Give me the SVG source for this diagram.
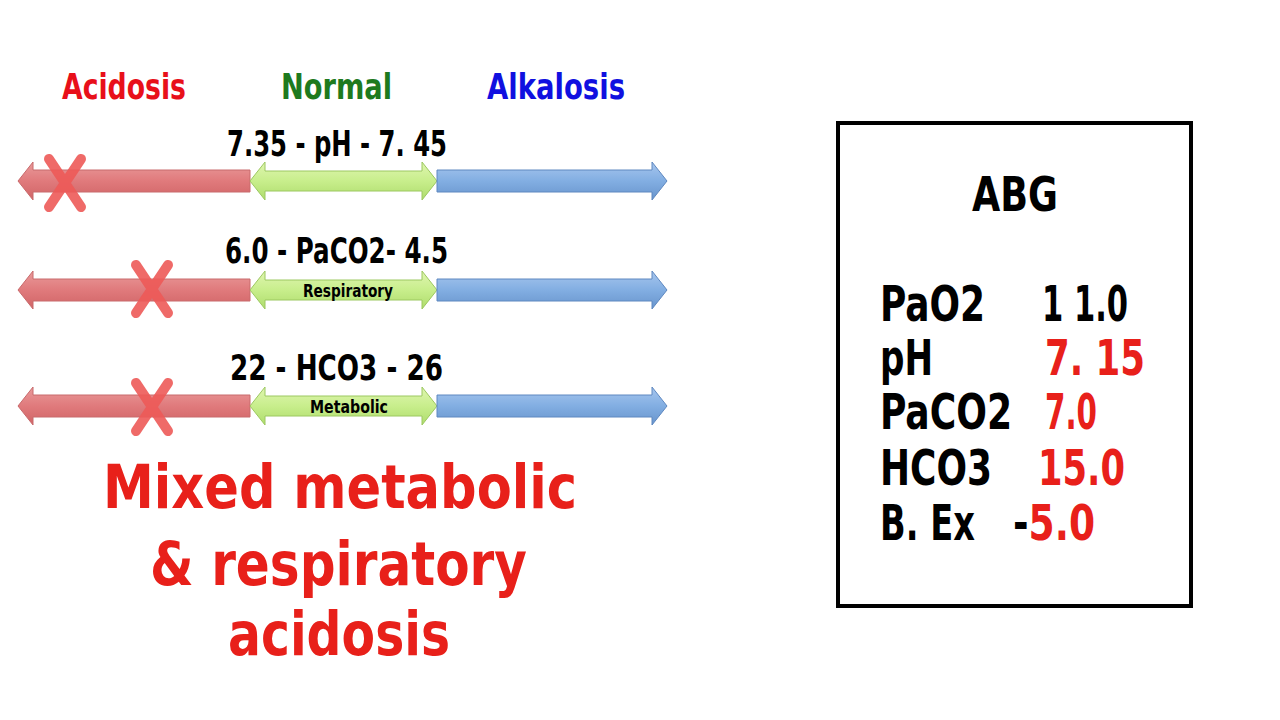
<svg xmlns="http://www.w3.org/2000/svg" width="1280" height="720" viewBox="0 0 1280 720">
<defs>
<linearGradient id="gr" x1="0" y1="0" x2="0" y2="1"><stop offset="0" stop-color="#e99a9a"/><stop offset="0.5" stop-color="#e07a7c"/><stop offset="1" stop-color="#d06466"/></linearGradient>
<linearGradient id="gg" x1="0" y1="0" x2="0" y2="1"><stop offset="0" stop-color="#dff5b0"/><stop offset="0.5" stop-color="#c8ee8c"/><stop offset="1" stop-color="#aedc6c"/></linearGradient>
<linearGradient id="gb" x1="0" y1="0" x2="0" y2="1"><stop offset="0" stop-color="#a7c6ee"/><stop offset="0.5" stop-color="#82aee2"/><stop offset="1" stop-color="#6894cc"/></linearGradient>
<g id="rowArrows">
<path d="M250,-11 H33 V-19 L18,0 L33,19 V11 H250 Z" fill="url(#gr)" stroke="#c86a6c" stroke-width="1"/>
<path d="M250,0 L265,-19 V-10 H422 V-19 L437,0 L422,19 V10 H265 V19 Z" fill="url(#gg)" stroke="#9cc860" stroke-width="1"/>
<path d="M437,-11 H652 V-19 L667,0 L652,19 V11 H437 Z" fill="url(#gb)" stroke="#5e88c0" stroke-width="1"/>
</g>
<g id="cross">
<path d="M-16,-24 L16,24 M16,-24 L-16,24" stroke="#ee5a58" stroke-width="10" stroke-linecap="round" opacity="0.9"/>
</g>
</defs>
<style>
.f{font-family:"Liberation Sans Narrow","DejaVu Sans Condensed","Liberation Sans",sans-serif;font-weight:bold}
.red{fill:#e8201a}
</style>
<rect width="1280" height="720" fill="#fff"/>
<g id="headers">
<text class="f" x="62" y="99" font-size="36" fill="#e8101a" textLength="124" lengthAdjust="spacingAndGlyphs">Acidosis</text>
<text class="f" x="281" y="99" font-size="36" fill="#1e7a1e" textLength="111" lengthAdjust="spacingAndGlyphs">Normal</text>
<text class="f" x="487" y="99" font-size="36" fill="#1010e0" textLength="138" lengthAdjust="spacingAndGlyphs">Alkalosis</text>
</g>
<g id="connectors">
<use href="#rowArrows" transform="translate(0,181)"/>
<use href="#rowArrows" transform="translate(0,290)"/>
<use href="#rowArrows" transform="translate(0,406)"/>
</g>
<g id="row-ph">
<text class="f" x="227" y="156" font-size="36" fill="#000" textLength="220" lengthAdjust="spacingAndGlyphs">7.35 - pH - 7. 45</text>
<use href="#cross" transform="translate(65,183)"/>
</g>
<g id="row-paco2">
<text class="f" x="225" y="263" font-size="36" fill="#000" textLength="223" lengthAdjust="spacingAndGlyphs">6.0 - PaCO2- 4.5</text>
<text class="f" x="303" y="297" font-size="17" fill="#000" textLength="90" lengthAdjust="spacingAndGlyphs">Respiratory</text>
<use href="#cross" transform="translate(152,289)"/>
</g>
<g id="row-hco3">
<text class="f" x="230" y="380" font-size="36" fill="#000" textLength="213" lengthAdjust="spacingAndGlyphs">22 - HCO3 - 26</text>
<text class="f" x="310" y="413" font-size="17" fill="#000" textLength="78" lengthAdjust="spacingAndGlyphs">Metabolic</text>
<use href="#cross" transform="translate(152,407)"/>
</g>
<g id="conclusion">
<text class="f red" x="103" y="508" font-size="60" textLength="474" lengthAdjust="spacingAndGlyphs">Mixed metabolic</text>
<text class="f red" x="150" y="585" font-size="60" textLength="377" lengthAdjust="spacingAndGlyphs">&amp; respiratory</text>
<text class="f red" x="228" y="655" font-size="60" textLength="222" lengthAdjust="spacingAndGlyphs">acidosis</text>
</g>
<g id="abg-box">
<rect x="838" y="123" width="353" height="483" fill="#fff" stroke="#000" stroke-width="4"/>
<text class="f" x="972" y="211" font-size="48" fill="#000" textLength="86" lengthAdjust="spacingAndGlyphs">ABG</text>
<text class="f" x="880" y="321" font-size="50" fill="#000" textLength="105" lengthAdjust="spacingAndGlyphs">PaO2</text>
<text class="f" x="1042" y="321" font-size="50" fill="#000" textLength="86" lengthAdjust="spacingAndGlyphs">1 1.0</text>
<text class="f" x="880" y="375" font-size="50" fill="#000" textLength="53" lengthAdjust="spacingAndGlyphs">pH</text>
<text class="f red" x="1045" y="375" font-size="50" textLength="100" lengthAdjust="spacingAndGlyphs">7. 15</text>
<text class="f" x="880" y="429" font-size="50" fill="#000" textLength="132" lengthAdjust="spacingAndGlyphs">PaCO2</text>
<text class="f red" x="1045" y="429" font-size="50" textLength="52" lengthAdjust="spacingAndGlyphs">7.0</text>
<text class="f" x="880" y="485" font-size="50" fill="#000" textLength="112" lengthAdjust="spacingAndGlyphs">HCO3</text>
<text class="f red" x="1038" y="485" font-size="50" textLength="87" lengthAdjust="spacingAndGlyphs">15.0</text>
<text class="f" x="880" y="540" font-size="50" fill="#000" textLength="95" lengthAdjust="spacingAndGlyphs">B. Ex</text>
<text class="f" x="1013" y="540" font-size="50" fill="#000" textLength="82" lengthAdjust="spacingAndGlyphs">-<tspan class="red">5.0</tspan></text>
</g>
</svg>
